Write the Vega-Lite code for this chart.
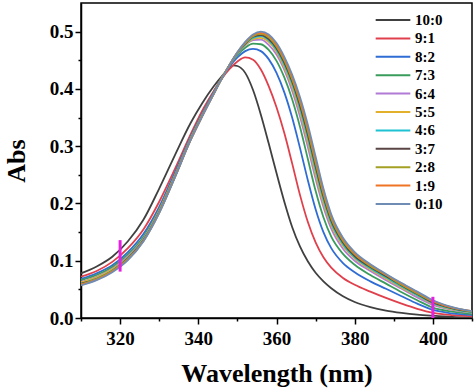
{
  "$schema": "https://vega.github.io/schema/vega-lite/v6.json",
  "width": 391,
  "height": 315,
  "autosize": {"type": "none"},
  "padding": {"left": 81, "top": 3, "right": 2, "bottom": 72},
  "background": "white",
  "config": {
    "view": {"stroke": "black", "strokeWidth": 1.5},
    "axis": {
      "labelFont": "Liberation Serif", "labelFontWeight": "bold", "labelFontSize": 19, "labelColor": "black",
      "titleFont": "Liberation Serif", "titleFontWeight": "bold", "titleFontSize": 26, "titleColor": "black",
      "domainColor": "black", "domainWidth": 1.5, "tickColor": "black", "tickWidth": 1.5, "grid": false
    },
    "legend": {
      "labelFont": "Liberation Serif", "labelFontWeight": "bold", "labelFontSize": 15, "labelColor": "black"
    }
  },
  "datasets": {
    "spectra": [
{"s":"10:0","w":310,"a":0.078},{"s":"10:0","w":314,"a":0.090},{"s":"10:0","w":318,"a":0.107},{"s":"10:0","w":322,"a":0.134},{"s":"10:0","w":326,"a":0.172},{"s":"10:0","w":330,"a":0.226},{"s":"10:0","w":334,"a":0.284},{"s":"10:0","w":338,"a":0.340},{"s":"10:0","w":341,"a":0.375},{"s":"10:0","w":344,"a":0.405},{"s":"10:0","w":346,"a":0.422},{"s":"10:0","w":348,"a":0.436},{"s":"10:0","w":349,"a":0.441},{"s":"10:0","w":350,"a":0.440},{"s":"10:0","w":352,"a":0.428},{"s":"10:0","w":354,"a":0.398},{"s":"10:0","w":356,"a":0.355},{"s":"10:0","w":358,"a":0.305},{"s":"10:0","w":360,"a":0.253},{"s":"10:0","w":362,"a":0.203},{"s":"10:0","w":364,"a":0.159},{"s":"10:0","w":366,"a":0.125},{"s":"10:0","w":368,"a":0.099},{"s":"10:0","w":370,"a":0.079},{"s":"10:0","w":372,"a":0.064},{"s":"10:0","w":374,"a":0.052},{"s":"10:0","w":377,"a":0.038},{"s":"10:0","w":380,"a":0.028},{"s":"10:0","w":384,"a":0.019},{"s":"10:0","w":388,"a":0.013},{"s":"10:0","w":392,"a":0.009},{"s":"10:0","w":396,"a":0.006},{"s":"10:0","w":400,"a":0.004},{"s":"10:0","w":405,"a":0.002},{"s":"10:0","w":410,"a":0.001},
{"s":"9:1","w":310,"a":0.072},{"s":"9:1","w":314,"a":0.082},{"s":"9:1","w":318,"a":0.098},{"s":"9:1","w":322,"a":0.122},{"s":"9:1","w":326,"a":0.155},{"s":"9:1","w":330,"a":0.203},{"s":"9:1","w":334,"a":0.260},{"s":"9:1","w":338,"a":0.320},{"s":"9:1","w":341,"a":0.362},{"s":"9:1","w":344,"a":0.397},{"s":"9:1","w":346,"a":0.418},{"s":"9:1","w":348,"a":0.435},{"s":"9:1","w":350,"a":0.448},{"s":"9:1","w":352,"a":0.455},{"s":"9:1","w":354,"a":0.451},{"s":"9:1","w":356,"a":0.434},{"s":"9:1","w":358,"a":0.405},{"s":"9:1","w":360,"a":0.368},{"s":"9:1","w":362,"a":0.323},{"s":"9:1","w":364,"a":0.270},{"s":"9:1","w":366,"a":0.215},{"s":"9:1","w":368,"a":0.168},{"s":"9:1","w":370,"a":0.132},{"s":"9:1","w":372,"a":0.106},{"s":"9:1","w":374,"a":0.088},{"s":"9:1","w":377,"a":0.070},{"s":"9:1","w":380,"a":0.058},{"s":"9:1","w":384,"a":0.046},{"s":"9:1","w":388,"a":0.035},{"s":"9:1","w":392,"a":0.025},{"s":"9:1","w":396,"a":0.016},{"s":"9:1","w":400,"a":0.009},{"s":"9:1","w":405,"a":0.005},{"s":"9:1","w":410,"a":0.003},
{"s":"8:2","w":310,"a":0.068},{"s":"8:2","w":314,"a":0.078},{"s":"8:2","w":318,"a":0.092},{"s":"8:2","w":322,"a":0.115},{"s":"8:2","w":326,"a":0.147},{"s":"8:2","w":330,"a":0.194},{"s":"8:2","w":334,"a":0.254},{"s":"8:2","w":338,"a":0.316},{"s":"8:2","w":341,"a":0.357},{"s":"8:2","w":344,"a":0.395},{"s":"8:2","w":346,"a":0.419},{"s":"8:2","w":348,"a":0.439},{"s":"8:2","w":350,"a":0.455},{"s":"8:2","w":352,"a":0.466},{"s":"8:2","w":354,"a":0.470},{"s":"8:2","w":356,"a":0.466},{"s":"8:2","w":358,"a":0.452},{"s":"8:2","w":360,"a":0.428},{"s":"8:2","w":362,"a":0.394},{"s":"8:2","w":364,"a":0.350},{"s":"8:2","w":366,"a":0.297},{"s":"8:2","w":368,"a":0.241},{"s":"8:2","w":370,"a":0.190},{"s":"8:2","w":372,"a":0.150},{"s":"8:2","w":374,"a":0.122},{"s":"8:2","w":377,"a":0.096},{"s":"8:2","w":380,"a":0.080},{"s":"8:2","w":384,"a":0.064},{"s":"8:2","w":388,"a":0.051},{"s":"8:2","w":392,"a":0.038},{"s":"8:2","w":396,"a":0.025},{"s":"8:2","w":400,"a":0.014},{"s":"8:2","w":405,"a":0.008},{"s":"8:2","w":410,"a":0.005},
{"s":"7:3","w":310,"a":0.066},{"s":"7:3","w":314,"a":0.075},{"s":"7:3","w":318,"a":0.089},{"s":"7:3","w":322,"a":0.111},{"s":"7:3","w":326,"a":0.142},{"s":"7:3","w":330,"a":0.190},{"s":"7:3","w":334,"a":0.250},{"s":"7:3","w":338,"a":0.314},{"s":"7:3","w":341,"a":0.355},{"s":"7:3","w":344,"a":0.394},{"s":"7:3","w":346,"a":0.419},{"s":"7:3","w":348,"a":0.441},{"s":"7:3","w":350,"a":0.459},{"s":"7:3","w":352,"a":0.472},{"s":"7:3","w":354,"a":0.479},{"s":"7:3","w":356,"a":0.478},{"s":"7:3","w":358,"a":0.468},{"s":"7:3","w":360,"a":0.449},{"s":"7:3","w":362,"a":0.420},{"s":"7:3","w":364,"a":0.382},{"s":"7:3","w":366,"a":0.334},{"s":"7:3","w":368,"a":0.278},{"s":"7:3","w":370,"a":0.222},{"s":"7:3","w":372,"a":0.176},{"s":"7:3","w":374,"a":0.142},{"s":"7:3","w":377,"a":0.112},{"s":"7:3","w":380,"a":0.093},{"s":"7:3","w":384,"a":0.075},{"s":"7:3","w":388,"a":0.060},{"s":"7:3","w":392,"a":0.045},{"s":"7:3","w":396,"a":0.031},{"s":"7:3","w":400,"a":0.018},{"s":"7:3","w":405,"a":0.011},{"s":"7:3","w":410,"a":0.007},
{"s":"6:4","w":310,"a":0.063},{"s":"6:4","w":314,"a":0.072},{"s":"6:4","w":318,"a":0.086},{"s":"6:4","w":322,"a":0.108},{"s":"6:4","w":326,"a":0.139},{"s":"6:4","w":330,"a":0.188},{"s":"6:4","w":334,"a":0.248},{"s":"6:4","w":338,"a":0.313},{"s":"6:4","w":341,"a":0.354},{"s":"6:4","w":344,"a":0.393},{"s":"6:4","w":346,"a":0.419},{"s":"6:4","w":348,"a":0.441},{"s":"6:4","w":350,"a":0.461},{"s":"6:4","w":352,"a":0.476},{"s":"6:4","w":354,"a":0.485},{"s":"6:4","w":356,"a":0.486},{"s":"6:4","w":358,"a":0.477},{"s":"6:4","w":360,"a":0.460},{"s":"6:4","w":362,"a":0.433},{"s":"6:4","w":364,"a":0.397},{"s":"6:4","w":366,"a":0.352},{"s":"6:4","w":368,"a":0.299},{"s":"6:4","w":370,"a":0.243},{"s":"6:4","w":372,"a":0.194},{"s":"6:4","w":374,"a":0.156},{"s":"6:4","w":377,"a":0.121},{"s":"6:4","w":380,"a":0.100},{"s":"6:4","w":384,"a":0.082},{"s":"6:4","w":388,"a":0.066},{"s":"6:4","w":392,"a":0.051},{"s":"6:4","w":396,"a":0.036},{"s":"6:4","w":400,"a":0.023},{"s":"6:4","w":405,"a":0.014},{"s":"6:4","w":410,"a":0.009},
{"s":"5:5","w":310,"a":0.062},{"s":"5:5","w":314,"a":0.071},{"s":"5:5","w":318,"a":0.085},{"s":"5:5","w":322,"a":0.106},{"s":"5:5","w":326,"a":0.138},{"s":"5:5","w":330,"a":0.187},{"s":"5:5","w":334,"a":0.248},{"s":"5:5","w":338,"a":0.312},{"s":"5:5","w":341,"a":0.354},{"s":"5:5","w":344,"a":0.393},{"s":"5:5","w":346,"a":0.419},{"s":"5:5","w":348,"a":0.442},{"s":"5:5","w":350,"a":0.462},{"s":"5:5","w":352,"a":0.477},{"s":"5:5","w":354,"a":0.487},{"s":"5:5","w":356,"a":0.489},{"s":"5:5","w":358,"a":0.482},{"s":"5:5","w":360,"a":0.465},{"s":"5:5","w":362,"a":0.438},{"s":"5:5","w":364,"a":0.404},{"s":"5:5","w":366,"a":0.360},{"s":"5:5","w":368,"a":0.308},{"s":"5:5","w":370,"a":0.252},{"s":"5:5","w":372,"a":0.201},{"s":"5:5","w":374,"a":0.162},{"s":"5:5","w":377,"a":0.126},{"s":"5:5","w":380,"a":0.104},{"s":"5:5","w":384,"a":0.085},{"s":"5:5","w":388,"a":0.069},{"s":"5:5","w":392,"a":0.053},{"s":"5:5","w":396,"a":0.039},{"s":"5:5","w":400,"a":0.025},{"s":"5:5","w":405,"a":0.015},{"s":"5:5","w":410,"a":0.010},
{"s":"4:6","w":310,"a":0.060},{"s":"4:6","w":314,"a":0.069},{"s":"4:6","w":318,"a":0.083},{"s":"4:6","w":322,"a":0.105},{"s":"4:6","w":326,"a":0.137},{"s":"4:6","w":330,"a":0.186},{"s":"4:6","w":334,"a":0.247},{"s":"4:6","w":338,"a":0.312},{"s":"4:6","w":341,"a":0.353},{"s":"4:6","w":344,"a":0.393},{"s":"4:6","w":346,"a":0.418},{"s":"4:6","w":348,"a":0.442},{"s":"4:6","w":350,"a":0.462},{"s":"4:6","w":352,"a":0.478},{"s":"4:6","w":354,"a":0.489},{"s":"4:6","w":356,"a":0.492},{"s":"4:6","w":358,"a":0.485},{"s":"4:6","w":360,"a":0.468},{"s":"4:6","w":362,"a":0.442},{"s":"4:6","w":364,"a":0.409},{"s":"4:6","w":366,"a":0.366},{"s":"4:6","w":368,"a":0.315},{"s":"4:6","w":370,"a":0.259},{"s":"4:6","w":372,"a":0.207},{"s":"4:6","w":374,"a":0.166},{"s":"4:6","w":377,"a":0.129},{"s":"4:6","w":380,"a":0.106},{"s":"4:6","w":384,"a":0.087},{"s":"4:6","w":388,"a":0.071},{"s":"4:6","w":392,"a":0.055},{"s":"4:6","w":396,"a":0.040},{"s":"4:6","w":400,"a":0.026},{"s":"4:6","w":405,"a":0.016},{"s":"4:6","w":410,"a":0.010},
{"s":"3:7","w":310,"a":0.060},{"s":"3:7","w":314,"a":0.068},{"s":"3:7","w":318,"a":0.082},{"s":"3:7","w":322,"a":0.104},{"s":"3:7","w":326,"a":0.136},{"s":"3:7","w":330,"a":0.185},{"s":"3:7","w":334,"a":0.246},{"s":"3:7","w":338,"a":0.311},{"s":"3:7","w":341,"a":0.353},{"s":"3:7","w":344,"a":0.393},{"s":"3:7","w":346,"a":0.418},{"s":"3:7","w":348,"a":0.442},{"s":"3:7","w":350,"a":0.463},{"s":"3:7","w":352,"a":0.479},{"s":"3:7","w":354,"a":0.491},{"s":"3:7","w":356,"a":0.494},{"s":"3:7","w":358,"a":0.487},{"s":"3:7","w":360,"a":0.471},{"s":"3:7","w":362,"a":0.446},{"s":"3:7","w":364,"a":0.413},{"s":"3:7","w":366,"a":0.371},{"s":"3:7","w":368,"a":0.321},{"s":"3:7","w":370,"a":0.265},{"s":"3:7","w":372,"a":0.212},{"s":"3:7","w":374,"a":0.170},{"s":"3:7","w":377,"a":0.132},{"s":"3:7","w":380,"a":0.108},{"s":"3:7","w":384,"a":0.089},{"s":"3:7","w":388,"a":0.073},{"s":"3:7","w":392,"a":0.057},{"s":"3:7","w":396,"a":0.042},{"s":"3:7","w":400,"a":0.027},{"s":"3:7","w":405,"a":0.017},{"s":"3:7","w":410,"a":0.011},
{"s":"2:8","w":310,"a":0.059},{"s":"2:8","w":314,"a":0.068},{"s":"2:8","w":318,"a":0.082},{"s":"2:8","w":322,"a":0.103},{"s":"2:8","w":326,"a":0.135},{"s":"2:8","w":330,"a":0.184},{"s":"2:8","w":334,"a":0.246},{"s":"2:8","w":338,"a":0.311},{"s":"2:8","w":341,"a":0.353},{"s":"2:8","w":344,"a":0.392},{"s":"2:8","w":346,"a":0.418},{"s":"2:8","w":348,"a":0.442},{"s":"2:8","w":350,"a":0.463},{"s":"2:8","w":352,"a":0.480},{"s":"2:8","w":354,"a":0.492},{"s":"2:8","w":356,"a":0.496},{"s":"2:8","w":358,"a":0.490},{"s":"2:8","w":360,"a":0.474},{"s":"2:8","w":362,"a":0.450},{"s":"2:8","w":364,"a":0.417},{"s":"2:8","w":366,"a":0.377},{"s":"2:8","w":368,"a":0.327},{"s":"2:8","w":370,"a":0.271},{"s":"2:8","w":372,"a":0.217},{"s":"2:8","w":374,"a":0.174},{"s":"2:8","w":377,"a":0.135},{"s":"2:8","w":380,"a":0.111},{"s":"2:8","w":384,"a":0.091},{"s":"2:8","w":388,"a":0.075},{"s":"2:8","w":392,"a":0.058},{"s":"2:8","w":396,"a":0.043},{"s":"2:8","w":400,"a":0.029},{"s":"2:8","w":405,"a":0.018},{"s":"2:8","w":410,"a":0.011},
{"s":"1:9","w":310,"a":0.058},{"s":"1:9","w":314,"a":0.067},{"s":"1:9","w":318,"a":0.081},{"s":"1:9","w":322,"a":0.102},{"s":"1:9","w":326,"a":0.135},{"s":"1:9","w":330,"a":0.184},{"s":"1:9","w":334,"a":0.246},{"s":"1:9","w":338,"a":0.310},{"s":"1:9","w":341,"a":0.352},{"s":"1:9","w":344,"a":0.392},{"s":"1:9","w":346,"a":0.418},{"s":"1:9","w":348,"a":0.442},{"s":"1:9","w":350,"a":0.464},{"s":"1:9","w":352,"a":0.481},{"s":"1:9","w":354,"a":0.494},{"s":"1:9","w":356,"a":0.498},{"s":"1:9","w":358,"a":0.493},{"s":"1:9","w":360,"a":0.477},{"s":"1:9","w":362,"a":0.453},{"s":"1:9","w":364,"a":0.421},{"s":"1:9","w":366,"a":0.381},{"s":"1:9","w":368,"a":0.333},{"s":"1:9","w":370,"a":0.277},{"s":"1:9","w":372,"a":0.222},{"s":"1:9","w":374,"a":0.178},{"s":"1:9","w":377,"a":0.138},{"s":"1:9","w":380,"a":0.113},{"s":"1:9","w":384,"a":0.093},{"s":"1:9","w":388,"a":0.076},{"s":"1:9","w":392,"a":0.060},{"s":"1:9","w":396,"a":0.045},{"s":"1:9","w":400,"a":0.030},{"s":"1:9","w":405,"a":0.018},{"s":"1:9","w":410,"a":0.012},
{"s":"0:10","w":310,"a":0.057},{"s":"0:10","w":314,"a":0.066},{"s":"0:10","w":318,"a":0.080},{"s":"0:10","w":322,"a":0.101},{"s":"0:10","w":326,"a":0.134},{"s":"0:10","w":330,"a":0.183},{"s":"0:10","w":334,"a":0.245},{"s":"0:10","w":338,"a":0.310},{"s":"0:10","w":341,"a":0.352},{"s":"0:10","w":344,"a":0.392},{"s":"0:10","w":346,"a":0.418},{"s":"0:10","w":348,"a":0.442},{"s":"0:10","w":350,"a":0.464},{"s":"0:10","w":352,"a":0.482},{"s":"0:10","w":354,"a":0.495},{"s":"0:10","w":356,"a":0.500},{"s":"0:10","w":358,"a":0.495},{"s":"0:10","w":360,"a":0.480},{"s":"0:10","w":362,"a":0.456},{"s":"0:10","w":364,"a":0.425},{"s":"0:10","w":366,"a":0.386},{"s":"0:10","w":368,"a":0.338},{"s":"0:10","w":370,"a":0.282},{"s":"0:10","w":372,"a":0.226},{"s":"0:10","w":374,"a":0.181},{"s":"0:10","w":377,"a":0.140},{"s":"0:10","w":380,"a":0.115},{"s":"0:10","w":384,"a":0.094},{"s":"0:10","w":388,"a":0.077},{"s":"0:10","w":392,"a":0.061},{"s":"0:10","w":396,"a":0.046},{"s":"0:10","w":400,"a":0.031},{"s":"0:10","w":405,"a":0.019},{"s":"0:10","w":410,"a":0.012}
    ],
    "markers": [
      {"w": 320, "lo": 0.081, "hi": 0.136},
      {"w": 400, "lo": 0.0, "hi": 0.037}
    ]
  },
  "layer": [
    {
      "data": {"name": "spectra"},
      "mark": {"type": "line", "interpolate": "monotone", "strokeWidth": 1.8, "clip": true},
      "encoding": {
        "x": {"field": "w", "type": "quantitative", "scale": {"domain": [310, 410], "nice": false, "zero": false},
          "axis": {"orient": "bottom", "values": [320, 340, 360, 380, 400], "tickSize": 6, "labelPadding": 5, "title": "Wavelength (nm)", "titlePadding": 12}},
        "y": {"field": "a", "type": "quantitative", "scale": {"domain": [0, 0.55], "nice": false},
          "axis": {"orient": "left", "values": [0, 0.1, 0.2, 0.3, 0.4, 0.5], "format": ".1f", "tickSize": 6, "labelPadding": 2, "title": "Abs", "titlePadding": 20}},
        "color": {"field": "s", "type": "nominal",
          "scale": {"domain": ["10:0","9:1","8:2","7:3","6:4","5:5","4:6","3:7","2:8","1:9","0:10"],
                    "range": ["#404040","#e0404c","#2f6dd4","#3a9c5c","#b07ad6","#e2b02a","#1fc2d2","#5a4444","#a4a024","#ef7424","#6f8db4"]},
          "legend": {"title": null, "orient": "none", "legendX": 302, "legendY": 7, "symbolType": "M-2,0H2", "symbolSize": 300, "symbolStrokeWidth": 2, "rowPadding": 0.4, "labelOffset": 12}},
        "order": {"field": "s", "sort": "ascending"}
      }
    },
    {
      "data": {"name": "markers"},
      "mark": {"type": "rule", "color": "#e520e0", "strokeWidth": 3},
      "encoding": {
        "x": {"field": "w", "type": "quantitative", "axis": {"orient": "bottom", "values": [310, 330, 350, 370, 390, 410], "tickSize": 3, "labels": false, "domain": false, "title": null}},
        "y": {"field": "lo", "type": "quantitative", "axis": {"orient": "left", "values": [0.05, 0.15, 0.25, 0.35, 0.45], "tickSize": 3, "labels": false, "domain": false, "title": null}},
        "y2": {"field": "hi"}
      }
    }
  ],
  "resolve": {"axis": {"x": "independent", "y": "independent"}}
}
